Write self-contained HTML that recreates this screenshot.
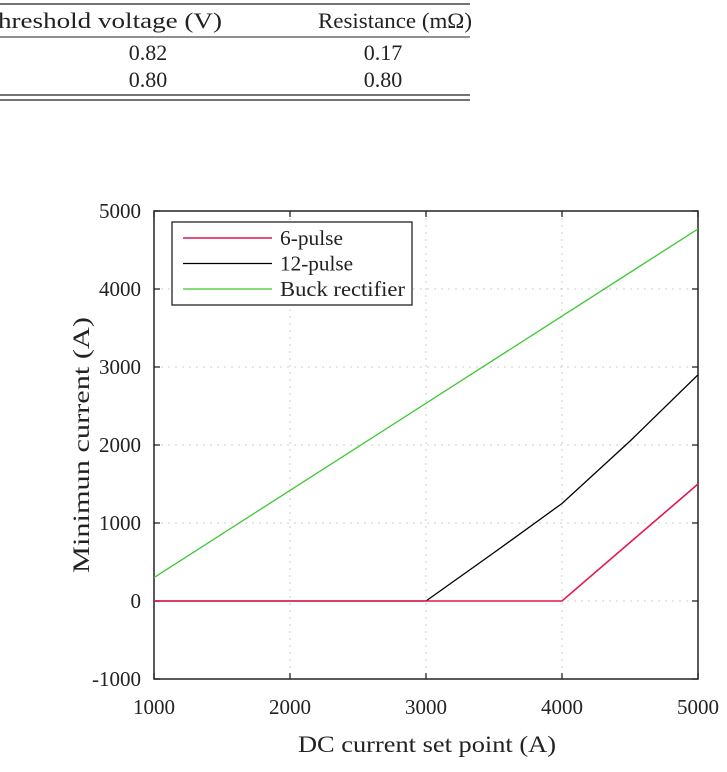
<!DOCTYPE html>
<html><head><meta charset="utf-8"><style>
body{margin:0;background:#fff;width:727px;height:767px;overflow:hidden;font-family:"Liberation Serif",serif;}
svg text{font-family:"Liberation Serif",serif;fill:#222;}
</style></head><body>
<svg width="727" height="767">
<g>
<line x1="0" y1="4" x2="470" y2="4" stroke="#222" stroke-width="1.3"/>
<text x="-2" y="28" font-size="22" textLength="224" lengthAdjust="spacingAndGlyphs">hreshold voltage (V)</text>
<text x="318" y="28" font-size="22" textLength="154" lengthAdjust="spacingAndGlyphs">Resistance (mΩ)</text>
<line x1="0" y1="37" x2="470" y2="37" stroke="#222" stroke-width="1"/>
<text x="148" y="60" font-size="22" text-anchor="middle">0.82</text>
<text x="383" y="60" font-size="22" text-anchor="middle">0.17</text>
<text x="148" y="87" font-size="22" text-anchor="middle">0.80</text>
<text x="383" y="87" font-size="22" text-anchor="middle">0.80</text>
<line x1="0" y1="95" x2="470" y2="95" stroke="#222" stroke-width="1.2"/>
<line x1="0" y1="100" x2="470" y2="100" stroke="#222" stroke-width="1.2"/>
</g>
<g id="chart"></g>
</svg>
<script>
const xTicks=[1000,2000,3000,4000,5000];
const yTicks=[-1000,0,1000,2000,3000,4000,5000];
const seriesNames=["6-pulse","12-pulse","Buck rectifier"];
const pulse6X=[1000,4000,5000];
const pulse6Y=[0,0,1500];
const pulse12X=[1000,3000,3500,4000,4500,5000];
const pulse12Y=[0,0,620,1250,2050,2900];
const buckX=[1000,5000];
const buckY=[300,4770];
const colors=["#e0194f","#000000","#3cc832"];
const NS="http://www.w3.org/2000/svg";
const L=154,R=698,T=211,B=679;
const sx=v=>L+(v-1000)/4000*(R-L);
const sy=v=>B-(v+1000)/6000*(B-T);
const g=document.getElementById('chart');
function mk(t,a,p){const e=document.createElementNS(NS,t);for(const k in a)e.setAttribute(k,a[k]);(p||g).appendChild(e);return e;}
xTicks.forEach(v=>{
 if(v>1000&&v<5000){const gl=mk('line',{x1:sx(v),x2:sx(v),y1:T,y2:B,stroke:'#ccc','stroke-dasharray':'2 5'});
 
 }
 mk('line',{x1:sx(v),x2:sx(v),y1:B,y2:B-6,stroke:'#222','stroke-width':1.3});
 mk('line',{x1:sx(v),x2:sx(v),y1:T,y2:T+6,stroke:'#222','stroke-width':1.3});
 const t=mk('text',{x:sx(v),y:B+35,'font-size':21,'text-anchor':'middle'});t.textContent=v;
 
 
});
yTicks.forEach(v=>{
 if(v>-1000&&v<5000){const gl=mk('line',{x1:L,x2:R,y1:sy(v),y2:sy(v),stroke:'#ccc','stroke-dasharray':'2 5'});
 
 }
 mk('line',{x1:L,x2:L+6,y1:sy(v),y2:sy(v),stroke:'#222','stroke-width':1.3});
 mk('line',{x1:R,x2:R-6,y1:sy(v),y2:sy(v),stroke:'#222','stroke-width':1.3});
 const t=mk('text',{x:L-13,y:sy(v)+7,'font-size':21,'text-anchor':'end'});t.textContent=v<0?'-'+(-v):v;
 
 
});
const frame=mk('rect',{x:L,y:T,width:R-L,height:B-T,fill:'none',stroke:'#222','stroke-width':1.5});


const xs=[pulse6X,pulse12X,buckX],ys=[pulse6Y,pulse12Y,buckY],names=['series-6-pulse','series-12-pulse','series-buck-rectifier'];
[2,1,0].forEach(i=>{
 const p=mk('polyline',{points:xs[i].map((x,j)=>sx(x)+','+sy(ys[i][j])).join(' '),fill:'none',stroke:colors[i],'stroke-width':i==0?1.6:1.3});
 
 
});
const lg=mk('g',{});


mk('rect',{x:172,y:222,width:240,height:83,fill:'#fff',stroke:'#222','stroke-width':1.3},lg);
const legendLens=[63,73,125];
seriesNames.forEach((n,i)=>{
 const y=238+i*25.5;
 mk('line',{x1:183,x2:272,y1:y,y2:y,stroke:colors[i],'stroke-width':i==0?1.6:1.3},lg);
 const t=mk('text',{x:280,y:y+7,'font-size':21,textLength:legendLens[i],lengthAdjust:'spacingAndGlyphs'},lg);t.textContent=n;
 
 
});
const xt=mk('text',{x:298,y:752,'font-size':23,textLength:258,lengthAdjust:'spacingAndGlyphs'});xt.textContent='DC current set point (A)';


const yt=mk('text',{x:-128,y:0,'font-size':23,textLength:256,lengthAdjust:'spacingAndGlyphs',transform:`translate(89,${(T+B)/2}) rotate(-90)`});yt.textContent='Minimun current (A)';


</script>
</body></html>
